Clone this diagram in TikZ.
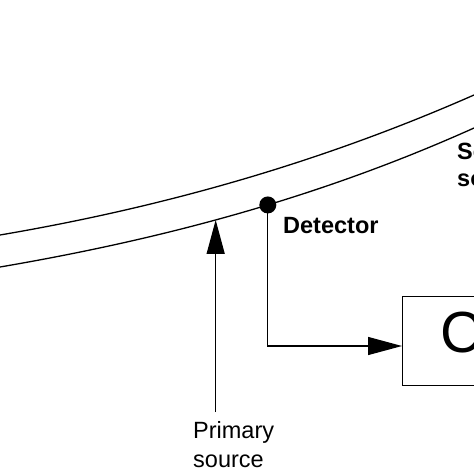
\documentclass[tikz,border=0pt]{standalone}
\usepackage{fontspec}
\setmainfont{Liberation Sans}
\usetikzlibrary{arrows.meta}
\begin{document}
\begin{tikzpicture}[x=1pt,y=-1pt,
  wire/.style={line width=1.3pt},
  bigtip/.style={-{Triangle[length=34pt,width=18pt]}},
  lbl/.style={inner sep=0pt,font=\fontsize{23.5}{29}\selectfont,align=left},
  blbl/.style={lbl,font=\fontsize{23.5}{27}\selectfont\bfseries}]
\useasboundingbox (0,0) rectangle (474,474);
\clip (0,0) rectangle (474,474);
% pipe walls
\coordinate (uA) at (0,235);
\coordinate (uB) at (474,95);
\coordinate (lA) at (0,267);
\coordinate (lB) at (474,128);
\draw[wire] (uA) .. controls (158,208.1) and (316,164.5) .. (uB);
\draw[wire] (lA) .. controls (158,240) and (316,199) .. (lB)
  coordinate[pos=0.455] (ptip) coordinate[pos=0.565] (det);
% detector
\fill (det) circle (8.5pt);
\node[blbl,anchor=base west] (dlbl) at (283,233) {Detector};
% primary source arrow
\node[lbl,anchor=north west] (plbl) at (193,421) {Primary\\source};
\coordinate (pbot) at (ptip |- 0,412);
\draw[wire,bigtip] (pbot) -- (ptip);
% box
\node[draw,line width=1.3pt,anchor=north west,minimum width=140pt,minimum height=89pt,inner sep=0pt] (box) at (402,296) {};
\node[inner sep=0pt,anchor=base west,font=\fontsize{58}{60}\selectfont] (clbl) at (440,352) {C};
% detector to box
\coordinate (corner) at (det |- 0,346);
\draw[wire,bigtip] (det) -- (corner) -- (box.west |- corner);
% secondary source label
\node[blbl,anchor=north west] (slbl) at (457,142) {Secondary\\source};
\end{tikzpicture}
\end{document}
